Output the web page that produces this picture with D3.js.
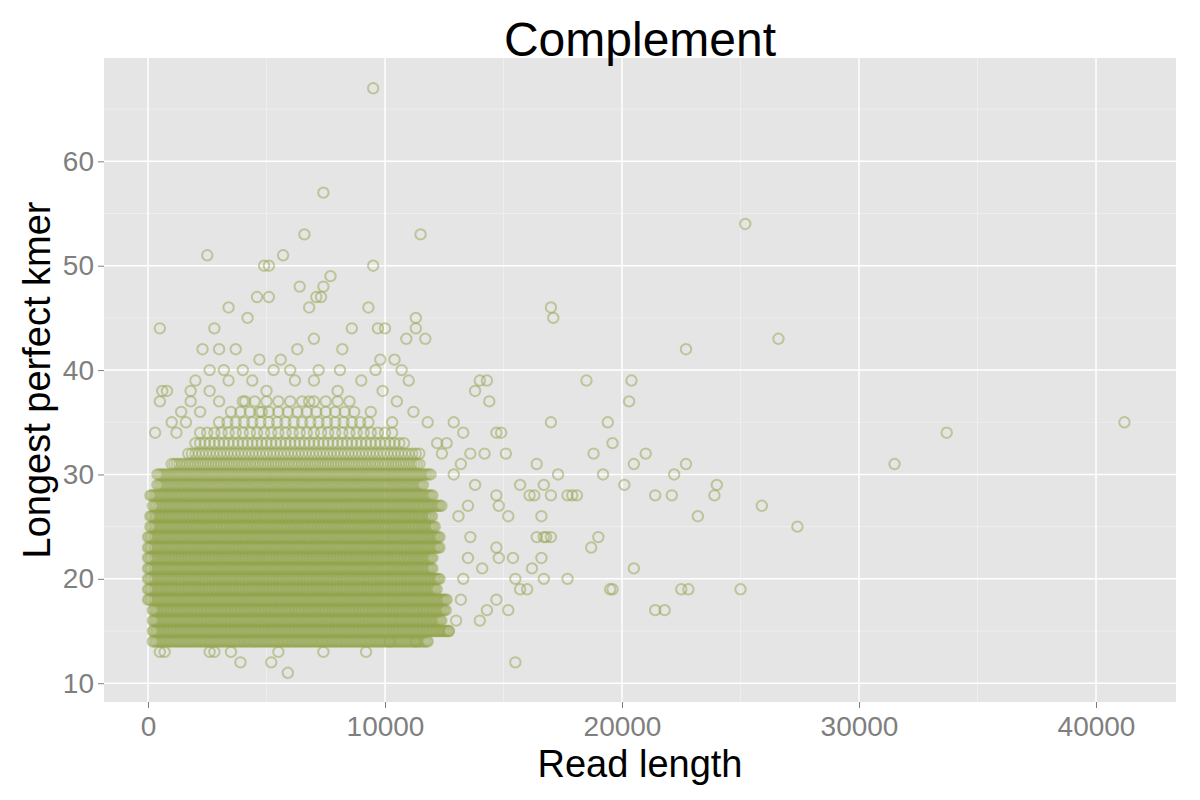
<!DOCTYPE html>
<html><head><meta charset="utf-8">
<script src="https://cdn.jsdelivr.net/npm/d3@7"></script>
<style>body{margin:0;background:#fff}</style>
</head><body><div id="chart"></div>
<script>
// scattered reads: [read length, longest kmer]
const sparsePoints = [
  [9500,67],[7400,57],[6600,53],[11500,53],[5700,51],[2500,51],[4900,50],[5100,50],[9500,50],[7700,49],
  [7400,48],[6400,48],[5100,47],[4600,47],[7100,47],[7300,47],[9300,46],[6800,46],[3400,46],[4200,45],
  [11300,45],[17100,45],[17000,46],[500,44],[2800,44],[9700,44],[10000,44],[8600,44],[11300,44],[25200,54],
  [26600,43],[22700,42],[10900,43],[11700,43],[2300,42],[3000,42],[3700,42],[10400,41],[600,38],[800,38],
  [500,37],[300,34],[1800,38],[2000,39],[20400,39],[18500,39],[14000,39],[14300,39],[14400,37],[20300,37],
  [13800,38],[33700,34],[41200,35],[31500,31],[17000,35],[19400,35],[14700,34],[14900,34],[12900,35],[19600,33],
  [18800,32],[21000,32],[15100,32],[14200,32],[16400,31],[20500,31],[22700,31],[17300,30],[19200,30],[22200,30],
  [16700,29],[20100,29],[24000,29],[15700,29],[16100,28],[16300,28],[17700,28],[17900,28],[18100,28],[21400,28],
  [22100,28],[23900,28],[17000,28],[14700,28],[25900,27],[14800,27],[15200,26],[16600,26],[23200,26],[27400,25],
  [16700,24],[17000,24],[19000,24],[16800,24],[16400,24],[18700,23],[14700,23],[14800,22],[16600,22],[15400,22],
  [16200,21],[20500,21],[14100,21],[15500,20],[16700,20],[17700,20],[15700,19],[16000,19],[19500,19],[19600,19],
  [22500,19],[22800,19],[25000,19],[14700,18],[15200,17],[21400,17],[21800,17],[14000,16],[14300,17],[15500,12],
  [5900,11],[3900,12],[5200,12],[9200,13],[7400,13],[700,13],[500,13],[2600,13],[2800,13],[5500,13],
  [3500,13],[10200,14],[11300,14],[11800,14],[12700,15],[13000,16],[13200,18],[13300,20],[13500,22],[13600,24],
  [13100,26],[13500,27],[13800,29],[12900,30],[13200,31],[13600,32],[12600,33],[13300,34],[3200,40],[4000,40],
  [5300,40],[6000,40],[7200,40],[8100,40],[9600,40],[10700,40],[2600,40],[4700,41],[5600,41],[6300,42],
  [7000,43],[8200,42],[9800,41],[11000,39],[1400,36],[1000,35],[1200,34],[1800,37],[2200,36],[2600,38],
  [3400,39],[4400,39],[5000,38],[6200,39],[7000,39],[8000,38],[9000,39],[9900,38],[10500,37],[11200,36],
  [11800,35],[12200,33],[12400,32],[1600,35],[3000,37],[4100,37],[4800,36],[6800,37],[8500,37],[10300,35],[9400,36]
];

// dense rows of the main cluster: [kmer, first read length, last read length, spacing]
const denseRows = [
  [14,200,11800,70],[15,200,12700,60],[16,200,12400,60],[17,200,12600,60],[18,0,12600,60],
  [19,0,12200,60],[20,0,12300,60],[21,0,12000,60],[22,0,12000,60],[23,0,12300,60],
  [24,0,12300,60],[25,100,12100,60],[26,100,12000,60],[27,200,12400,70],[28,100,12000,70],
  [29,400,11600,80],[30,400,12000,90],[31,1000,11500,110],[32,1700,11500,150],[33,2000,10800,200],
  [34,2200,10500,300],[35,3000,9500,350],[36,3500,9000,400],[37,4000,8200,500]
];

const xTicks = [0, 10000, 20000, 30000, 40000];
const yTicks = [10, 20, 30, 40, 50, 60];

const W = 1200, H = 800;
const m = {left: 104, right: 24, top: 58, bottom: 98};
const font = "'Liberation Sans', Arial, sans-serif";

const svg = d3.select("#chart").append("svg").attr("width", W).attr("height", H)
  .style("font-family", font);

const x = d3.scaleLinear().domain([-1857, 43375]).range([m.left, W - m.right]);
const y = d3.scaleLinear().domain([8.2, 69.9]).range([H - m.bottom, m.top]);

svg.append("rect").attr("x", m.left).attr("y", m.top)
  .attr("width", W - m.left - m.right).attr("height", H - m.top - m.bottom).attr("fill", "#e5e5e5");

// minor grid
const g = svg.append("g");
[5000, 15000, 25000, 35000].forEach(v => g.append("line")
  .attr("x1", x(v)).attr("x2", x(v)).attr("y1", m.top).attr("y2", H - m.bottom)
  .attr("stroke", "#f0f0f0").attr("stroke-width", 0.8));
[15, 25, 35, 45, 55, 65].forEach(v => g.append("line")
  .attr("y1", y(v)).attr("y2", y(v)).attr("x1", m.left).attr("x2", W - m.right)
  .attr("stroke", "#f0f0f0").attr("stroke-width", 0.8));
xTicks.forEach(v => g.append("line")
  .attr("x1", x(v)).attr("x2", x(v)).attr("y1", m.top).attr("y2", H - m.bottom)
  .attr("stroke", "#fff").attr("stroke-width", 1.5));
yTicks.forEach(v => g.append("line")
  .attr("y1", y(v)).attr("y2", y(v)).attr("x1", m.left).attr("x2", W - m.right)
  .attr("stroke", "#fff").attr("stroke-width", 1.5));

// expand dense rows into individual marks
const densePoints = [];
denseRows.forEach(([k, a, b, step]) => {
  for (let v = a; v <= b; v += step) densePoints.push([v, k]);
});

svg.append("g").selectAll("circle")
  .data(densePoints.concat(sparsePoints))
  .join("circle")
    .attr("cx", d => x(d[0]))
    .attr("cy", d => y(d[1]))
    .attr("r", 5.2)
    .attr("fill", "none")
    .attr("stroke", "#94a54e")
    .attr("stroke-opacity", 0.5)
    .attr("stroke-width", 2);

// axes
const xAxis = svg.append("g").attr("transform", `translate(0,${H - m.bottom})`)
  .call(d3.axisBottom(x).tickValues(xTicks).tickFormat(d3.format("d")).tickSize(6).tickPadding(4));
const yAxis = svg.append("g").attr("transform", `translate(${m.left},0)`)
  .call(d3.axisLeft(y).tickValues(yTicks).tickSize(6).tickPadding(4));
[xAxis, yAxis].forEach(a => {
  a.select(".domain").remove();
  a.selectAll(".tick line").attr("stroke", "#7f7f7f");
  a.selectAll(".tick text").attr("fill", "#7f7f7f").style("font-size", "28px")
    .style("font-family", font);
});
xAxis.selectAll(".tick text").attr("dy", "0.85em");

svg.append("text").attr("x", (m.left + W - m.right) / 2).attr("y", 56)
  .attr("text-anchor", "middle").style("font-size", "48px").text("Complement");
svg.append("text").attr("x", (m.left + W - m.right) / 2).attr("y", 777)
  .attr("text-anchor", "middle").style("font-size", "38px").text("Read length");
svg.append("text").attr("transform", `translate(50,${(m.top + H - m.bottom) / 2}) rotate(-90)`)
  .attr("text-anchor", "middle").style("font-size", "38px").text("Longest perfect kmer");
</script></body></html>
